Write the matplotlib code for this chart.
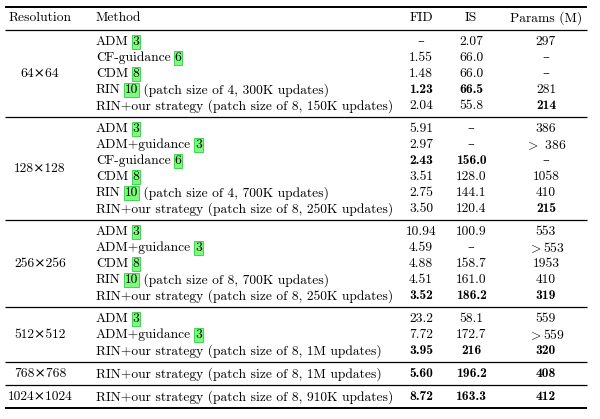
import matplotlib.pyplot as plt

plt.rcParams['font.family'] = ['cmr10', 'DejaVu Serif']
plt.rcParams['mathtext.fontset'] = 'cm'
plt.rcParams['axes.unicode_minus'] = False

headers = ["Resolution", "Method", "FID", "IS", "Params (M)"]

# each group: resolution, rows of (method, ref, suffix, fid, is, params, bold flags)
groups = [
    ("64×64", [
        ("ADM", "3", "", "–", "2.07", "297", (0, 0, 0)),
        ("CF-guidance", "6", "", "1.55", "66.0", "–", (0, 0, 0)),
        ("CDM", "8", "", "1.48", "66.0", "–", (0, 0, 0)),
        ("RIN", "10", " (patch size of 4, 300K updates)", "1.23", "66.5", "281", (1, 1, 0)),
        ("RIN+our strategy (patch size of 8, 150K updates)", "", "", "2.04", "55.8", "214", (0, 0, 1)),
    ]),
    ("128×128", [
        ("ADM", "3", "", "5.91", "–", "386", (0, 0, 0)),
        ("ADM+guidance", "3", "", "2.97", "–", "$>$ 386", (0, 0, 0)),
        ("CF-guidance", "6", "", "2.43", "156.0", "–", (1, 1, 0)),
        ("CDM", "8", "", "3.51", "128.0", "1058", (0, 0, 0)),
        ("RIN", "10", " (patch size of 4, 700K updates)", "2.75", "144.1", "410", (0, 0, 0)),
        ("RIN+our strategy (patch size of 8, 250K updates)", "", "", "3.50", "120.4", "215", (0, 0, 1)),
    ]),
    ("256×256", [
        ("ADM", "3", "", "10.94", "100.9", "553", (0, 0, 0)),
        ("ADM+guidance", "3", "", "4.59", "–", "$>$553", (0, 0, 0)),
        ("CDM", "8", "", "4.88", "158.7", "1953", (0, 0, 0)),
        ("RIN", "10", " (patch size of 8, 700K updates)", "4.51", "161.0", "410", (0, 0, 0)),
        ("RIN+our strategy (patch size of 8, 250K updates)", "", "", "3.52", "186.2", "319", (1, 1, 1)),
    ]),
    ("512×512", [
        ("ADM", "3", "", "23.2", "58.1", "559", (0, 0, 0)),
        ("ADM+guidance", "3", "", "7.72", "172.7", "$>$559", (0, 0, 0)),
        ("RIN+our strategy (patch size of 8, 1M updates)", "", "", "3.95", "216", "320", (1, 1, 1)),
    ]),
    ("768×768", [
        ("RIN+our strategy (patch size of 8, 1M updates)", "", "", "5.60", "196.2", "408", (1, 1, 1)),
    ]),
    ("1024×1024", [
        ("RIN+our strategy (patch size of 8, 910K updates)", "", "", "8.72", "163.3", "412", (1, 1, 1)),
    ]),
]

W, H = 600, 419
fig = plt.figure(figsize=(6.0, 4.19), dpi=100)
ax = fig.add_axes([0, 0, 1, 1])
ax.set_xlim(0, W)
ax.set_ylim(H, 0)
ax.axis('off')
fig.canvas.draw()
renderer = fig.canvas.get_renderer()

fs = 9.7
col_res, col_meth, col_fid, col_is, col_par = 40, 96, 421, 471, 546
row_h = 16.0


def hline(y, lw=0.9):
    ax.plot([5, 587], [y, y], color='black', lw=lw, solid_capstyle='butt')


def px_width(t):
    bb = t.get_window_extent(renderer)
    return bb.width


hline(7, 1.4)
y = 18
for x, h, ha in zip([col_res, col_meth, col_fid, col_is, col_par], headers,
                    ['center', 'left', 'center', 'center', 'center']):
    ax.text(x, y, h, fontsize=fs, ha=ha, va='center')
hline(30)

y = 42
for gi, (res, rows) in enumerate(groups):
    y0 = y
    for method, ref, suffix, fid, is_, par, bold in rows:
        t = ax.text(col_meth, y, method, fontsize=fs, ha='left', va='center')
        if ref:
            x = col_meth + px_width(t) + 4
            r = ax.text(x, y, ref, fontsize=fs, ha='left', va='center',
                        bbox=dict(boxstyle='square,pad=0.05', fc='#7CFC7C', ec='#2ecc40', lw=0.6))
            x += px_width(r) + 1
            if suffix:
                ax.text(x, y, suffix, fontsize=fs, ha='left', va='center')
        for xc, v, b in zip([col_fid, col_is, col_par], [fid, is_, par], bold):
            ax.text(xc, y, v, fontsize=fs, ha='center', va='center',
                    family=['cmb10', 'DejaVu Serif'] if b else ['cmr10', 'DejaVu Serif'])
        y += row_h
    ax.text(col_res, (y0 + y - row_h) / 2, res, fontsize=fs, ha='center', va='center')
    if gi < len(groups) - 1:
        ys = y - row_h + 11
        hline(ys)
        y = ys + 12
    else:
        hline(y - row_h + 11, 1.4)

fig.savefig('out.png', dpi=100)
